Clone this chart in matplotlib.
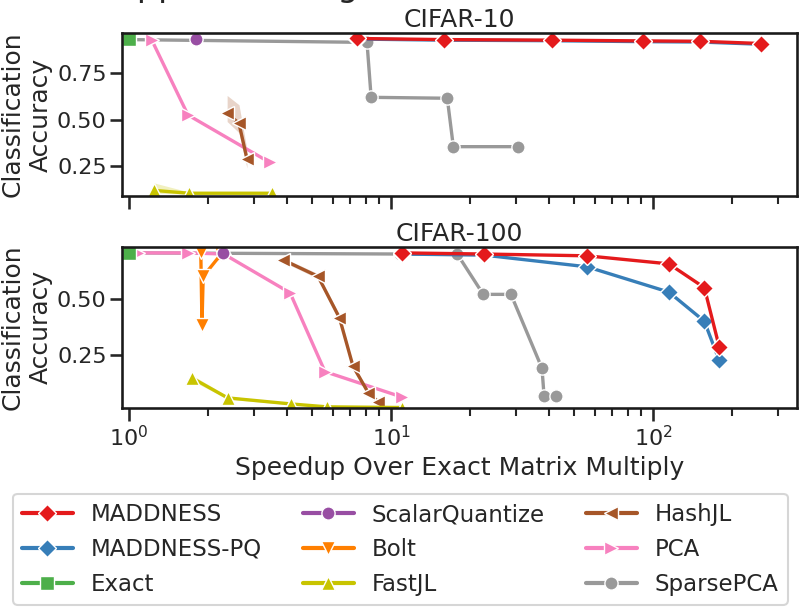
import matplotlib
matplotlib.use('Agg')
import matplotlib.pyplot as plt
import seaborn as sns
from matplotlib.lines import Line2D
from matplotlib.ticker import FormatStrFormatter

sns.set_theme(style='ticks', context='talk')
plt.rcParams['font.family'] = ['DejaVu Sans']

methods = ['MADDNESS', 'MADDNESS-PQ', 'Exact', 'ScalarQuantize', 'Bolt',
           'FastJL', 'HashJL', 'PCA', 'SparsePCA']
colors = ['#e41a1c', '#377eb8', '#4daf4a', '#984ea3', '#ff7f00',
          '#c8c400', '#a65628', '#f781bf', '#999999']
markers = ['D', 'D', 's', 'o', 'v', '^', '<', '>', 'o']

# ---------------- CIFAR-10 ----------------
c10_maddness_x = [7.4, 15.9, 41.2, 91.6, 151, 258]
c10_maddness_y = [0.936, 0.930, 0.927, 0.923, 0.921, 0.909]
c10_pq_x = [7.4, 15.9, 41.2, 91.6, 151, 258]
c10_pq_y = [0.933, 0.927, 0.924, 0.919, 0.917, 0.905]
c10_exact_x = [1.0]
c10_exact_y = [0.932]
c10_sq_x = [1.8]
c10_sq_y = [0.932]
c10_fastjl_x = [1.25, 1.69, 3.5]
c10_fastjl_y = [0.120, 0.105, 0.105]
c10_fastjl_lo = [0.105, 0.100, 0.100]
c10_fastjl_hi = [0.160, 0.112, 0.110]
c10_hashjl_x = [2.37, 2.63, 2.82]
c10_hashjl_y = [0.535, 0.480, 0.290]
c10_hashjl_lo = [0.49, 0.43, 0.24]
c10_hashjl_hi = [0.63, 0.58, 0.34]
c10_pca_x = [1.22, 1.68, 3.45]
c10_pca_y = [0.930, 0.525, 0.270]
c10_spca_x = [1.0, 8.1, 8.4, 16.4, 17.3, 30.5]
c10_spca_y = [0.930, 0.915, 0.620, 0.615, 0.355, 0.355]

# ---------------- CIFAR-100 ----------------
c100_maddness_x = [11.0, 22.7, 56, 115, 157, 179]
c100_maddness_y = [0.705, 0.700, 0.692, 0.656, 0.550, 0.285]
c100_pq_x = [11.0, 22.7, 56, 115, 157, 179]
c100_pq_y = [0.700, 0.695, 0.643, 0.530, 0.400, 0.225]
c100_exact_x = [1.0]
c100_exact_y = [0.705]
c100_sq_x = [2.28]
c100_sq_y = [0.705]
c100_bolt_x = [1.88, 1.90, 1.92, 2.25]
c100_bolt_y = [0.710, 0.385, 0.600, 0.700]
c100_fastjl_x = [1.74, 2.38, 4.15, 5.69, 11.0]
c100_fastjl_y = [0.147, 0.058, 0.031, 0.018, 0.015]
c100_fastjl_lo = [0.135, 0.052, 0.027, 0.015, 0.012]
c100_fastjl_hi = [0.160, 0.066, 0.035, 0.021, 0.018]
c100_hashjl_x = [3.87, 5.27, 6.36, 7.16, 8.2, 8.95]
c100_hashjl_y = [0.674, 0.600, 0.415, 0.200, 0.080, 0.040]
c100_hashjl_lo = [0.665, 0.590, 0.400, 0.190, 0.072, 0.034]
c100_hashjl_hi = [0.684, 0.612, 0.430, 0.212, 0.090, 0.046]
c100_pca_x = [1.08, 1.68, 2.3, 4.12, 5.6, 11.0]
c100_pca_y = [0.705, 0.705, 0.700, 0.527, 0.175, 0.062]
c100_spca_x = [1.0, 10.8, 17.9, 22.5, 28.7, 37.7, 38.4, 42.6]
c100_spca_y = [0.705, 0.700, 0.700, 0.520, 0.520, 0.190, 0.065, 0.065]

panels = [
    ('CIFAR-10', {
        'MADDNESS': (c10_maddness_x, c10_maddness_y, None),
        'MADDNESS-PQ': (c10_pq_x, c10_pq_y, None),
        'Exact': (c10_exact_x, c10_exact_y, None),
        'ScalarQuantize': (c10_sq_x, c10_sq_y, None),
        'FastJL': (c10_fastjl_x, c10_fastjl_y, (c10_fastjl_lo, c10_fastjl_hi)),
        'HashJL': (c10_hashjl_x, c10_hashjl_y, (c10_hashjl_lo, c10_hashjl_hi)),
        'PCA': (c10_pca_x, c10_pca_y, None),
        'SparsePCA': (c10_spca_x, c10_spca_y, None),
    }, (0.09, 0.965), [0.25, 0.50, 0.75]),
    ('CIFAR-100', {
        'MADDNESS': (c100_maddness_x, c100_maddness_y, None),
        'MADDNESS-PQ': (c100_pq_x, c100_pq_y, None),
        'Exact': (c100_exact_x, c100_exact_y, None),
        'ScalarQuantize': (c100_sq_x, c100_sq_y, None),
        'Bolt': (c100_bolt_x, c100_bolt_y, None),
        'FastJL': (c100_fastjl_x, c100_fastjl_y, (c100_fastjl_lo, c100_fastjl_hi)),
        'HashJL': (c100_hashjl_x, c100_hashjl_y, (c100_hashjl_lo, c100_hashjl_hi)),
        'PCA': (c100_pca_x, c100_pca_y, None),
        'SparsePCA': (c100_spca_x, c100_spca_y, None),
    }, (0.013, 0.732), [0.25, 0.50]),
]

fig = plt.figure(figsize=(8.02, 6.08), dpi=100)
ax_rects = [[0.152, 0.6776, 0.842, 0.268], [0.152, 0.329, 0.842, 0.265]]

LW = 2.4
MS = 9.5
for i, (title, data, ylim, yticks) in enumerate(panels):
    ax = fig.add_axes(ax_rects[i])
    # draw in reverse legend order so MADDNESS ends up on top
    for k in range(len(methods) - 1, -1, -1):
        m = methods[k]
        if m not in data:
            continue
        xs, ys, band = data[m]
        if band is not None:
            ax.fill_between(xs, band[0], band[1], color=colors[k], alpha=0.25, lw=0)
        ax.plot(xs, ys, color=colors[k], marker=markers[k], lw=LW, ms=MS,
                mec='white', mew=1.0)
    ax.set_xscale('log')
    ax.set_xlim(0.94, 355)
    ax.set_ylim(*ylim)
    ax.set_yticks(yticks)
    ax.yaxis.set_major_formatter(FormatStrFormatter('%.2f'))
    ax.set_title(title, fontsize=18, pad=4.5)
    ax.set_ylabel('Classification\nAccuracy', fontsize=18, labelpad=3)
    ax.tick_params(axis='y', labelsize=16, pad=2)
    ax.tick_params(axis='x', labelsize=16)
    for sp in ax.spines.values():
        sp.set_visible(True)
        sp.set_color('#1a1a1a')
    if i == 0:
        ax.tick_params(axis='x', which='both', labelbottom=False)
    else:
        ax.set_xlabel('Speedup Over Exact Matrix Multiply', fontsize=18)

fig.text(0.5, 1 + 4 / 608, 'Approximating Softmax Classifiers', ha='center',
         va='baseline', fontsize=24, color='.15')

handles = [Line2D([], [], color=colors[k], marker=markers[k], lw=3.0, ms=MS,
                  mec='white', mew=1.0) for k in range(len(methods))]
fig.legend(handles, methods, loc='lower left',
           bbox_to_anchor=(13 / 802, 3 / 608, 775 / 802, 0.17), mode='expand',
           ncol=3, fontsize=16.5, handlelength=2.2, handletextpad=0.8,
           borderaxespad=0, labelspacing=0.52, borderpad=0.4)

fig.savefig('out.png', dpi=100)
